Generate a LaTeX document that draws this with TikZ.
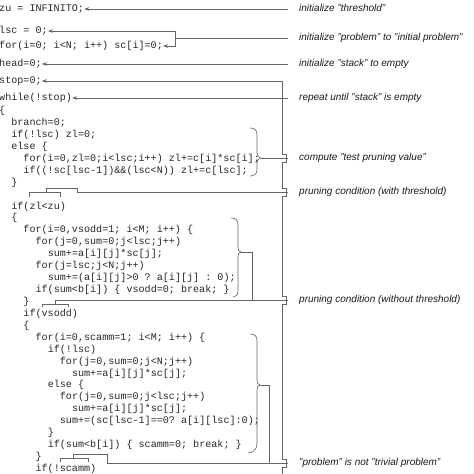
\documentclass[tikz,border=0pt]{standalone}
\usepackage{fontspec}
\setmainfont{Liberation Sans}
\setsansfont{Liberation Sans}
\setmonofont{Liberation Mono}
\usepackage{tikz}
\usetikzlibrary{math,arrows.meta}
\tikzset{
  code/.style = {anchor=west, inner sep=0pt, text height=7pt, text depth=2pt,
    font=\fontsize{10.1}{12}\selectfont\ttfamily, text=black!85},
  note/.style = {anchor=west, inner xsep=11pt, inner ysep=0pt, text height=7.5pt,
    text depth=2.5pt, font=\fontsize{10}{12}\selectfont\sffamily\itshape, text=black!90},
  wire/.style = {draw=black!60, line width=0.65pt},
  tip/.style = {wire, -{Stealth[length=5pt,width=3.6pt]}},
  twotips/.style = {wire, {Stealth[length=5pt,width=3.6pt]}-{Stealth[length=5pt,width=3.6pt]}}
}

\begin{document}
\begin{tikzpicture}[x=1pt, y=-1pt]
    \tikzmath{
      \chw = 6.07;
      \xorg = -1;
      \lnpitch = 11.93;
      \ybody = 123;
      \busX = 282;
      \labX = 288;
      \lscX = 175;
    }
    \useasboundingbox (0,0) rectangle (474,474);
    \node[code] (czu) at (\xorg, 9) {zu = INFINITO;};
    \node[code] (clsc) at (\xorg, 31) {lsc = 0;};
    \node[code] (cinit) at (\xorg, 46) {for(i=0; i<N; i++) sc[i]=0;};
    \node[code] (chead) at (\xorg, 64) {head=0;};
    \node[code] (cstop) at (\xorg, 81) {stop=0;};
    \node[code] (cwhile) at (\xorg, 98) {while(!stop)};
    \node[code] (copen) at (\xorg, 111) {\{};
    \node[code] (cbranch) at (\xorg+2*\chw, \ybody) {branch=0;};
    \node[code] (cnolsc) at (\xorg+2*\chw, \ybody+1*\lnpitch) {if(!lsc) zl=0;};
    \node[code] (celse) at (\xorg+2*\chw, \ybody+2*\lnpitch) {else \{};
    \node[code] (czlfor) at (\xorg+4*\chw, \ybody+3*\lnpitch) {for(i=0,zl=0;i<lsc;i++) zl+=c[i]*sc[i];};
    \node[code] (czlif) at (\xorg+4*\chw, \ybody+4*\lnpitch) {if((!sc[lsc-1])\&\&(lsc<N)) zl+=c[lsc];};
    \node[code] (celseend) at (\xorg+2*\chw, \ybody+5*\lnpitch) {\}};
    \node[code] (cifzl) at (\xorg+2*\chw, \ybody+7*\lnpitch) {if(zl<zu)};
    \node[code] (cifzlopen) at (\xorg+2*\chw, \ybody+8*\lnpitch) {\{};
    \node[code] (cvfor) at (\xorg+4*\chw, \ybody+9*\lnpitch) {for(i=0,vsodd=1; i<M; i++) \{};
    \node[code] (cvforj) at (\xorg+6*\chw, \ybody+10*\lnpitch) {for(j=0,sum=0;j<lsc;j++)};
    \node[code] (cvsum) at (\xorg+8*\chw, \ybody+11*\lnpitch) {sum+=a[i][j]*sc[j];};
    \node[code] (cvforjj) at (\xorg+6*\chw, \ybody+12*\lnpitch) {for(j=lsc;j<N;j++)};
    \node[code] (cvsumm) at (\xorg+8*\chw, \ybody+13*\lnpitch) {sum+=(a[i][j]>0 ? a[i][j] : 0);};
    \node[code] (cvif) at (\xorg+6*\chw, \ybody+14*\lnpitch) {if(sum<b[i]) \{ vsodd=0; break; \}};
    \node[code] (cvend) at (\xorg+4*\chw, \ybody+15*\lnpitch) {\}};
    \node[code] (cifv) at (\xorg+4*\chw, \ybody+16*\lnpitch) {if(vsodd)};
    \node[code] (cifvopen) at (\xorg+4*\chw, \ybody+17*\lnpitch) {\{};
    \node[code] (csfor) at (\xorg+6*\chw, \ybody+18*\lnpitch) {for(i=0,scamm=1; i<M; i++) \{};
    \node[code] (csnolsc) at (\xorg+8*\chw, \ybody+19*\lnpitch) {if(!lsc)};
    \node[code] (csforj) at (\xorg+10*\chw, \ybody+20*\lnpitch) {for(j=0,sum=0;j<N;j++)};
    \node[code] (cssum) at (\xorg+12*\chw, \ybody+21*\lnpitch) {sum+=a[i][j]*sc[j];};
    \node[code] (cselse) at (\xorg+8*\chw, \ybody+22*\lnpitch) {else \{};
    \node[code] (csforjj) at (\xorg+10*\chw, \ybody+23*\lnpitch) {for(j=0,sum=0;j<lsc;j++)};
    \node[code] (cssumm) at (\xorg+12*\chw, \ybody+24*\lnpitch) {sum+=a[i][j]*sc[j];};
    \node[code] (cssummm) at (\xorg+10*\chw, \ybody+25*\lnpitch) {sum+=(sc[lsc-1]==0? a[i][lsc]:0);};
    \node[code] (cselseend) at (\xorg+8*\chw, \ybody+26*\lnpitch) {\}};
    \node[code] (csif) at (\xorg+8*\chw, \ybody+27*\lnpitch) {if(sum<b[i]) \{ scamm=0; break; \}};
    \node[code] (csend) at (\xorg+6*\chw, \ybody+28*\lnpitch) {\}};
    \node[code] (cifs) at (\xorg+6*\chw, \ybody+29*\lnpitch) {if(!scamm)};
    \node[note] (lthr) at (\labX, 9) {initialize "threshold"};
    \node[note] (lprob) at (\labX, 38) {initialize "problem" to "initial problem"};
    \node[note] (lstack) at (\labX, 64) {initialize "stack" to empty};
    \node[note] (lrep) at (\labX, 98) {repeat until "stack" is empty};
    \node[note] (lcomp) at (\labX, 158) {compute "test pruning value"};
    \node[note] (lwith) at (\labX, 192) {pruning condition (with threshold)};
    \node[note] (lwithout) at (\labX, 300) {pruning condition (without threshold)};
    \node[note] (ltriv) at (\labX, 463) {"problem" is not "trivial problem"};
    \coordinate (bx) at (\lscX, 38);
    \coordinate (bus) at (\busX, 81);
    \coordinate (b1) at (261, 158);
    \coordinate (b2) at (241, 252);
    \coordinate (b3) at (260, 385);
    \coordinate (j2) at (252, 300);
    \coordinate (j3) at (269, 463);
    \draw[tip] (lthr.west) -- (czu.east);
    \draw[wire] (lprob.west) -- (bx);
    \draw[twotips] (clsc.east) -- (clsc.east -| bx) -- (cinit.east -| bx) -- (cinit.east);
    \draw[tip] (lstack.west) -- (chead.east);
    \draw[tip] (bus) -- (cstop.east);
    \draw[tip] (lrep.west) -- (cwhile.east);
    \draw[wire] (bus) -- (\busX,154) -- ++(4,0) -- ++(0,8) -- ++(-4,0)
      -- (\busX,188) -- ++(4,0) -- ++(0,8) -- ++(-4,0)
      -- (\busX,296) -- ++(4,0) -- ++(0,8) -- ++(-4,0)
      -- (\busX,459) -- ++(4,0) -- ++(0,8) -- ++(-4,0) -- (\busX,474);
    \draw[wire] (250,128) .. controls (255,128) and (257,130) .. (257,135) -- (257,153)
      .. controls (257,156) and (259,158) .. (b1) .. controls (259,158) and (257,160) .. (257,163)
      -- (257,170) .. controls (257,174) and (254,176) .. (250,176);
    \draw[wire] (231,218) .. controls (236,218) and (238,220) .. (238,225) -- (238,247)
      .. controls (238,250) and (239,252) .. (b2) .. controls (239,252) and (238,254) .. (238,257)
      -- (238,291) .. controls (238,295) and (236,297) .. (233,297);
    \draw[wire] (250,334) .. controls (255,334) and (257,336) .. (257,341) -- (257,380)
      .. controls (257,383) and (258,385) .. (b3) .. controls (258,385) and (257,387) .. (257,390)
      -- (257,444) .. controls (257,450) and (252,453) .. (248,453);
    \draw[wire] (b1) -- (lcomp.west);
    \draw[wire] (29,197) -- (29,192) -- (60,192) -- (60,197);
    \draw[wire] (46,192) -- (46,188) -- (77,188) -- (77,192) -- (lwith.west);
    \draw[wire] (42,307) -- (42,304) -- (68,304) -- (68,307);
    \draw[wire] (55,304) -- (55,300) -- (lwithout.west);
    \draw[wire] (b2) -| (j2);
    \draw[wire] (60,462) -- (60,458) -- (88,458) -- (88,462);
    \draw[wire] (73,458) -- (73,454) -- (107,454) -- (107,463) -- (ltriv.west);
    \draw[wire] (b3) -| (j3);
\end{tikzpicture}
\end{document}
